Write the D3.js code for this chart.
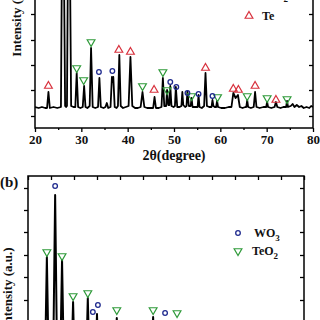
<!DOCTYPE html>
<html>
<head>
<meta charset="utf-8">
<script src="https://cdn.jsdelivr.net/npm/d3@7"></script>
<style>
  body { margin: 0; background: #fff; }
  svg { display: block; }
  text { font-family: "Liberation Serif", "DejaVu Serif", serif; font-weight: bold; fill: #111; }
</style>
</head>
<body>
<div id="chart"></div>
<script>
// tick values
var xMajor = [20, 30, 40, 50, 60, 70, 80];
var xMinor = [25, 35, 45, 55, 65, 75];
var xTopB = [20, 25, 30, 35, 40, 45, 50, 55, 60, 65, 70, 75, 80];
var yTicksA = [12, 38, 63, 88, 114];
var yTicksB = [100, 123, 145, 168, 190, 212];

// panel (a) pattern: [2theta, intensity]
var patternA = [
  [20, 21], [20.8, 20], [21.5, 21], [22.2, 20], [22.6, 20], [22.9, 36], [23.2, 20],
  [24, 21], [24.8, 20], [25.6, 21], [26.0, 300], [26.5, 22], [26.7, 21], [26.9, 22],
  [27.3, 300], [27.8, 22], [28.3, 21], [28.7, 21], [29.0, 55], [29.3, 21],
  [29.8, 20], [30.3, 21], [30.6, 42], [30.9, 21], [31.3, 20], [31.8, 22],
  [32.1, 80], [32.45, 21], [33.0, 20], [33.6, 21], [33.9, 50], [34.2, 21],
  [34.8, 20], [35.2, 21], [35.5, 25], [35.8, 20], [36.3, 21], [36.6, 51],
  [36.75, 46], [36.9, 51], [37.2, 21], [37.6, 20], [37.9, 22], [38.2, 73],
  [38.5, 22], [39.0, 20], [39.6, 21], [40.2, 22], [40.6, 71], [41.0, 22],
  [41.6, 20], [42.2, 20], [42.8, 21], [43.2, 36], [43.6, 21], [44.2, 20],
  [45.0, 20], [45.5, 20], [45.8, 31], [46.1, 20], [46.7, 20], [47.3, 21],
  [47.6, 50], [47.9, 22], [48.3, 22], [48.5, 38], [48.75, 23], [49.0, 23],
  [49.2, 42], [49.45, 22], [49.9, 21], [50.2, 22], [50.4, 41], [50.7, 21],
  [51.2, 21], [51.6, 22], [51.8, 36], [52.0, 23], [52.4, 21], [52.7, 22],
  [52.9, 37], [53.2, 22], [53.6, 22], [53.8, 30], [54.0, 21], [54.6, 21],
  [55.1, 21], [55.3, 33], [55.5, 21], [56.0, 20], [56.5, 22], [56.8, 55],
  [57.1, 22], [57.6, 21], [58.1, 21], [58.3, 28], [58.5, 22], [58.8, 21],
  [59.1, 21], [59.3, 27], [59.5, 21], [60.2, 20], [61.0, 20], [61.8, 21],
  [62.4, 21], [62.8, 35], [63.3, 30], [63.8, 33], [64.2, 21], [64.8, 20],
  [65.4, 21], [65.6, 21], [65.8, 28], [66.0, 21], [66.6, 20], [67.2, 21],
  [67.5, 36], [67.8, 21], [68.5, 20], [69.3, 21], [69.9, 21], [70.1, 26],
  [70.3, 21], [71.0, 20], [71.7, 21], [72.0, 26], [72.3, 21], [73.0, 20],
  [73.6, 21], [74.2, 21], [74.4, 27], [74.6, 21], [75.2, 22], [75.6, 24],
  [76.0, 21], [76.5, 23], [77.0, 21], [77.5, 22], [78.0, 20], [78.6, 21],
  [79.2, 20], [79.6, 22], [80, 21]
];

// panel (a) phase markers
var teA = [[22.9, 42], [38.1, 78], [40.6, 76], [45.7, 38], [56.8, 60], [62.8, 39], [63.9, 38], [67.5, 42], [72.0, 28]];
var teo2A = [[29.0, 60], [30.5, 48], [32.1, 86], [43.2, 42], [47.6, 56], [48.5, 38], [53.8, 32], [59.4, 31], [65.8, 32], [70.1, 30], [74.4, 29]];
var wo3A = [[33.8, 56], [36.7, 57], [49.2, 46], [50.5, 41], [52.9, 35], [55.3, 34], [58.3, 32]];

// panel (b) pattern
var patternB = [
  [20, 10], [23.0, 10], [23.6, 10], [24.1, 143], [24.6, 10], [25.4, 10],
  [25.9, 205], [26.4, 10], [26.9, 10], [27.4, 140], [27.9, 10], [29.3, 10],
  [29.8, 98], [30.3, 10], [32.5, 10], [33.0, 102], [33.5, 10], [34.5, 10],
  [35.0, 86], [35.5, 10], [38.8, 10], [39.3, 82], [39.8, 10], [46.7, 10],
  [47.2, 83], [47.7, 10], [49.3, 10], [49.8, 76], [50.3, 10], [51.9, 10],
  [52.4, 76], [52.9, 10], [80, 10]
];
var teo2B = [[24.1, 148], [27.4, 144], [29.8, 104], [33.0, 107], [39.3, 90], [47.2, 90], [52.4, 87]];
var wo3B = [[25.9, 214], [34.1, 88], [35.2, 95], [49.8, 87]];

var W = 320, H = 320;
var red = "#d8323e", green = "#2f9a3a", blue = "#1f2a8e";

var svg = d3.select("#chart").append("svg")
  .attr("width", W).attr("height", H);

var triUp = d3.symbol().type(d3.symbolTriangle).size(26);

function drawMarkers(g, pts, kind, x, y) {
  pts.forEach(function(p) {
    if (kind == "up") {
      g.append("path").attr("d", triUp())
        .attr("transform", "translate(" + x(p[0]) + "," + y(p[1]) + ")")
        .attr("fill", "none").attr("stroke", red).attr("stroke-width", 1.2);
    } else if (kind == "down") {
      g.append("path").attr("d", triUp())
        .attr("transform", "translate(" + x(p[0]) + "," + y(p[1]) + ") rotate(180)")
        .attr("fill", "none").attr("stroke", green).attr("stroke-width", 1.2);
    } else {
      g.append("circle").attr("cx", x(p[0])).attr("cy", y(p[1])).attr("r", 2.3)
        .attr("fill", "none").attr("stroke", blue).attr("stroke-width", 1.3);
    }
  });
}

// ---------- panel (a) ----------
var xA = d3.scaleLinear().domain([20, 80]).range([35, 313]);
var yA = d3.scaleLinear().domain([0, 200]).range([128, -72]);

svg.append("clipPath").attr("id", "clipA").append("rect")
  .attr("x", 35).attr("y", -80).attr("width", 278).attr("height", 208);

svg.append("path")
  .datum(patternA)
  .attr("clip-path", "url(#clipA)")
  .attr("fill", "none").attr("stroke", "#000").attr("stroke-width", 1.8)
  .attr("stroke-linejoin", "round")
  .attr("d", d3.line().x(function(d) { return xA(d[0]); }).y(function(d) { return yA(d[1]); }));

svg.append("rect").attr("x", 35).attr("y", -80).attr("width", 278).attr("height", 208)
  .attr("fill", "none").attr("stroke", "#000").attr("stroke-width", 1.5);

var axA = svg.append("g").attr("transform", "translate(0,128)")
  .call(d3.axisBottom(xA).tickValues(xMajor).tickSize(4).tickPadding(3));
svg.append("g").attr("transform", "translate(0,128)")
  .call(d3.axisBottom(xA).tickValues(xMinor).tickSize(2).tickFormat(""));
axA.selectAll("text").style("font-size", "13px");
svg.append("g").attr("transform", "translate(35,0)")
  .call(d3.axisLeft(yA).tickValues(yTicksA).tickSize(4).tickFormat(""));
svg.append("g").attr("transform", "translate(313,0)")
  .call(d3.axisRight(yA).tickValues(yTicksA).tickSize(-4).tickFormat(""));
svg.selectAll(".domain").remove();
svg.selectAll(".tick line").attr("stroke", "#000").attr("stroke-width", 1.3);

var gA = svg.append("g");
drawMarkers(gA, teA, "up", xA, yA);
drawMarkers(gA, teo2A, "down", xA, yA);
drawMarkers(gA, wo3A, "circle", xA, yA);

svg.append("text").attr("x", 174).attr("y", 160).attr("text-anchor", "middle")
  .style("font-size", "14px").text("2θ(degree)");
svg.append("text").attr("transform", "translate(21,16) rotate(-90)")
  .attr("text-anchor", "middle").style("font-size", "13px").text("Intensity (a.u.)");

// legend (a)
var legA = svg.append("g");
legA.append("path").attr("d", triUp()).attr("transform", "translate(249,-20) rotate(180)")
  .attr("fill", "none").attr("stroke", green).attr("stroke-width", 1.2);
var tA = legA.append("text").attr("x", 262).attr("y", -2).style("font-size", "12px").text("TeO");
tA.append("tspan").attr("dy", 4).style("font-size", "9px").text("2");
legA.append("path").attr("d", triUp()).attr("transform", "translate(249,16)")
  .attr("fill", "none").attr("stroke", red).attr("stroke-width", 1.2);
legA.append("text").attr("x", 262).attr("y", 20).style("font-size", "12px").text("Te");

// ---------- panel (b) ----------
var xB = d3.scaleLinear().domain([20, 80]).range([28, 304]);
var yB = d3.scaleLinear().domain([0, 224]).range([400, 176]);

svg.append("clipPath").attr("id", "clipB").append("rect")
  .attr("x", 28).attr("y", 176).attr("width", 276).attr("height", 224);

svg.append("path")
  .datum(patternB)
  .attr("clip-path", "url(#clipB)")
  .attr("fill", "none").attr("stroke", "#000").attr("stroke-width", 2)
  .attr("stroke-linejoin", "round")
  .attr("d", d3.line().x(function(d) { return xB(d[0]); }).y(function(d) { return yB(d[1]); }));

svg.append("rect").attr("x", 28).attr("y", 176).attr("width", 276).attr("height", 224)
  .attr("fill", "none").attr("stroke", "#000").attr("stroke-width", 1.5);

var gb1 = svg.append("g").attr("transform", "translate(0,176)")
  .call(d3.axisTop(xB).tickValues(xTopB).tickSize(-4).tickFormat(""));
var gb2 = svg.append("g").attr("transform", "translate(28,0)")
  .call(d3.axisLeft(yB).tickValues(yTicksB).tickSize(4).tickFormat(""));
var gb3 = svg.append("g").attr("transform", "translate(304,0)")
  .call(d3.axisRight(yB).tickValues(yTicksB).tickSize(-4).tickFormat(""));
[gb1, gb2, gb3].forEach(function(g) {
  g.select(".domain").remove();
  g.selectAll(".tick line").attr("stroke", "#000").attr("stroke-width", 1.3);
});

var gB = svg.append("g");
drawMarkers(gB, teo2B, "down", xB, yB);
drawMarkers(gB, wo3B, "circle", xB, yB);

svg.append("text").attr("x", 0).attr("y", 187).style("font-size", "15px").text("(b)");
svg.append("text").attr("transform", "translate(12,288) rotate(-90)")
  .attr("text-anchor", "middle").style("font-size", "13px").text("Intensity (a.u.)");

// legend (b)
var legB = svg.append("g");
legB.append("circle").attr("cx", 238).attr("cy", 233).attr("r", 2.3)
  .attr("fill", "none").attr("stroke", blue).attr("stroke-width", 1.3);
var tB1 = legB.append("text").attr("x", 254).attr("y", 237).style("font-size", "12px").text("WO");
tB1.append("tspan").attr("dy", 4).style("font-size", "9px").text("3");
legB.append("path").attr("d", triUp()).attr("transform", "translate(238,251) rotate(180)")
  .attr("fill", "none").attr("stroke", green).attr("stroke-width", 1.2);
var tB2 = legB.append("text").attr("x", 252).attr("y", 255).style("font-size", "12px").text("TeO");
tB2.append("tspan").attr("dy", 4).style("font-size", "9px").text("2");
</script>
</body>
</html>
